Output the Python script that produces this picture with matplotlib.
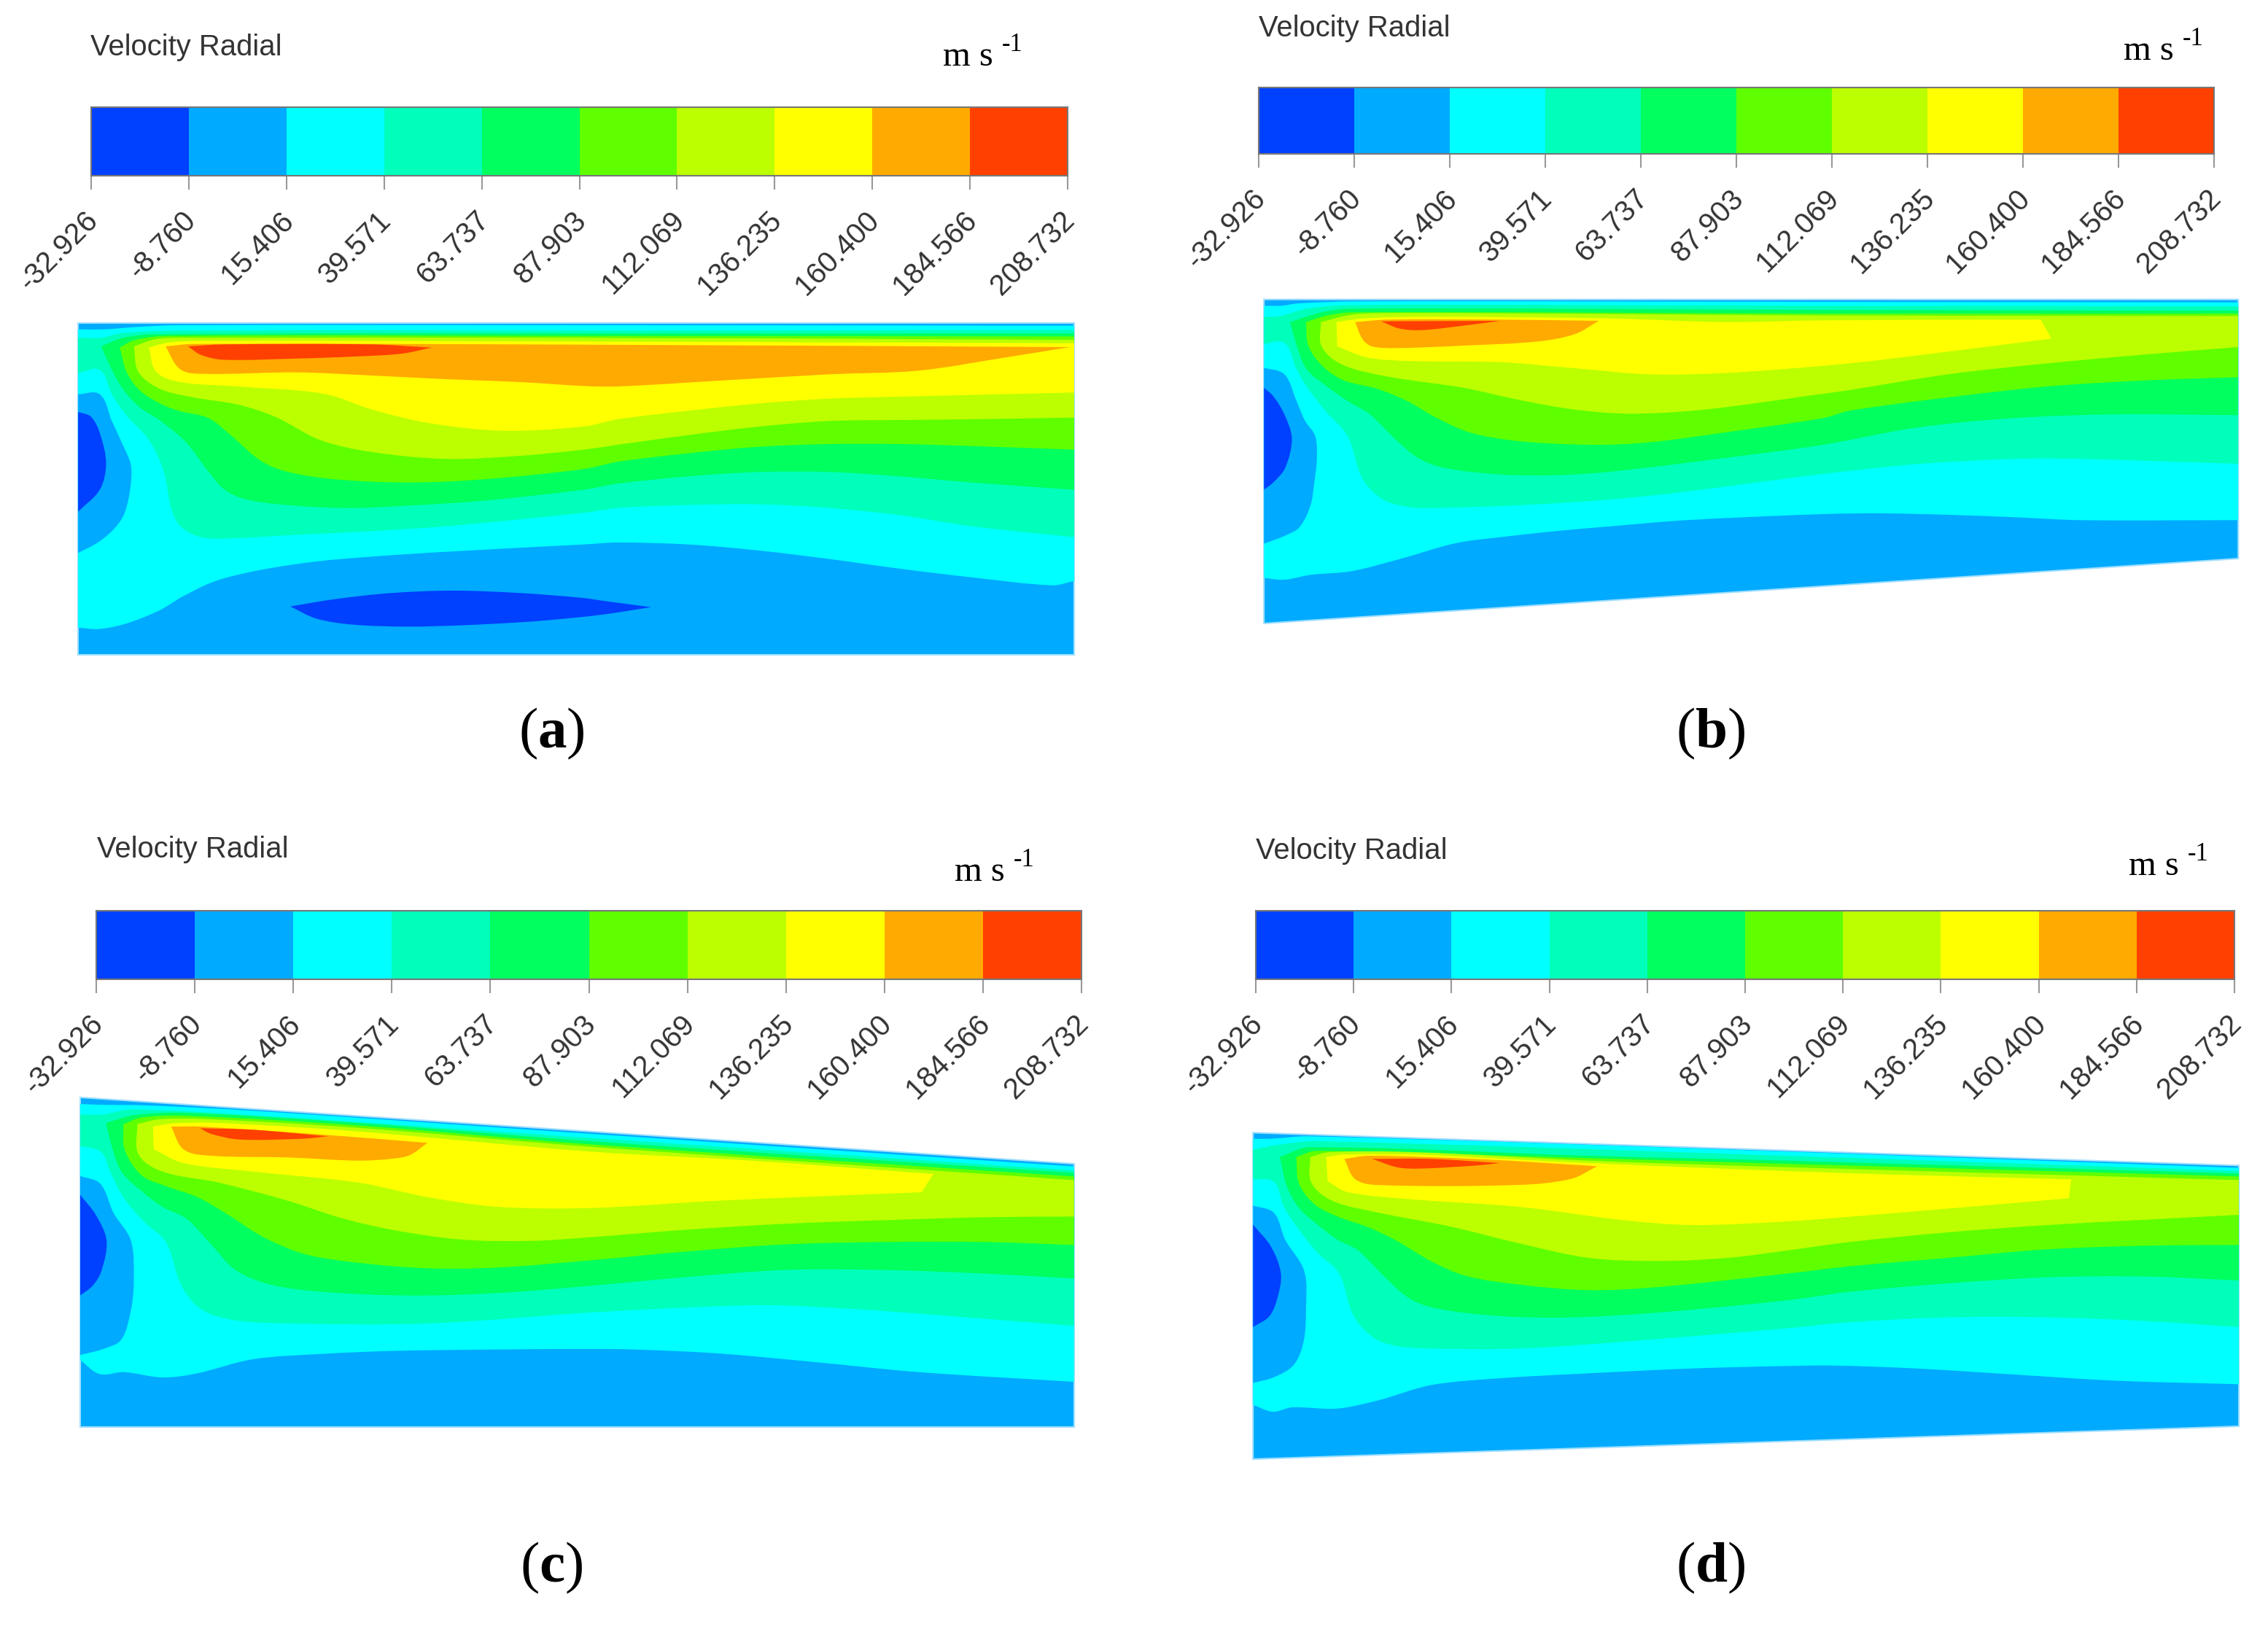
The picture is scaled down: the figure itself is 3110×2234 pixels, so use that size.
import numpy as np
import matplotlib
matplotlib.use("Agg")
import matplotlib.pyplot as plt
from matplotlib.patches import Polygon, PathPatch
from matplotlib.path import Path

W, H = 3110, 2234
plt.rcParams['font.family'] = ['Liberation Sans', 'DejaVu Sans']
plt.rcParams['mathtext.fontset'] = 'custom'
plt.rcParams['mathtext.rm'] = 'Liberation Serif'
plt.rcParams['mathtext.bf'] = 'Liberation Serif:bold'

# ---------- colour scale ----------
levels = [-32.926, -8.760, 15.406, 39.571, 63.737, 87.903, 112.069, 136.235, 160.400, 184.566, 208.732]
level_labels = ['-32.926', '-8.760', '15.406', '39.571', '63.737', '87.903', '112.069', '136.235', '160.400', '184.566', '208.732']
band_colors = ['#0040FF', '#00AAFF', '#00FFFF', '#00FFBB', '#00FF5F', '#5FFF00', '#BBFF00', '#FFFF00', '#FFAA00', '#FF4000']
title_text = 'Velocity Radial'
unit_text = 'm s'
unit_exp = '-1'
panel_names = ['a', 'b', 'c', 'd']


def reader(x0, y0, w):
    """Reads contour points picked off a magnified view of the reference."""
    k = 1568.0 / w
    return lambda pts: [(x0 + x / k, y0 + y / 3.0) for x, y in pts]


aL, aR = reader(0, 420, 800), reader(750, 420, 760)
bL, bR = reader(1700, 380, 800), reader(2400, 380, 710)
cL, cR = reader(60, 1490, 750), reader(800, 1490, 720)
dL, dR = reader(1700, 1530, 750), reader(2400, 1530, 710)

# ---------- panel (a) contours ----------
a_outline = aL([(210, 70), (210, 1435)]) + aR([(1492, 1435), (1492, 70)])
a_c2_top = aL([(210, 95), (280, 95), (370, 85), (480, 78), (1568, 78)]) + aR([(1492, 80)])
a_c2_low = aL([(210, 1322), (265, 1328), (340, 1305), (430, 1250), (490, 1195), (580, 1130), (700, 1085), (850, 1050), (1000, 1030), (1200, 1010), (1568, 980)]) + aR([(200, 972), (400, 980), (600, 1005), (800, 1040), (1000, 1080), (1200, 1115), (1430, 1148), (1492, 1130)])
a_c3_top = aL([(210, 130), (270, 130), (330, 110), (500, 100), (1568, 100)]) + aR([(1492, 97)])
a_c3_low = aL([(210, 275), (268, 262), (300, 360), (340, 450), (400, 550), (440, 680), (460, 830), (485, 905), (540, 950), (620, 955), (800, 940), (1000, 925), (1200, 905), (1568, 850)]) + aR([(200, 830), (400, 818), (600, 815), (800, 830), (1000, 860), (1200, 905), (1492, 950)])
a_c4_top = aL([(272, 165), (330, 130), (420, 115), (1568, 112)]) + aR([(1492, 112)])
a_c4_low = aL([(272, 165), (300, 260), (330, 340), (375, 415), (430, 470), (500, 560), (560, 680), (600, 750), (650, 790), (750, 815), (930, 830), (1100, 820), (1300, 800), (1568, 755)]) + aR([(200, 730), (400, 700), (600, 682), (800, 682), (1000, 700), (1200, 725), (1492, 755)])
a_c5_top = aL([(322, 170), (360, 140), (450, 122), (1568, 122)]) + aR([(1492, 124)])
a_c5_low = aL([(322, 170), (340, 270), (375, 345), (430, 400), (480, 430), (560, 460), (620, 530), (700, 635), (770, 680), (900, 712), (1100, 725), (1300, 712), (1568, 670)]) + aR([(200, 640), (400, 605), (600, 578), (800, 567), (1000, 567), (1200, 575), (1492, 590)])
a_c6_top = aL([(360, 165), (420, 135), (500, 130), (1568, 130)]) + aR([(1492, 138)])
a_c6_low = aL([(360, 165), (372, 270), (430, 340), (520, 375), (640, 405), (740, 455), (860, 550), (1000, 600), (1200, 628), (1400, 615), (1568, 590)]) + aR([(200, 570), (400, 530), (600, 495), (800, 472), (1000, 468), (1200, 465), (1492, 458)])
a_c7_top = aL([(400, 170), (450, 150), (550, 142), (1568, 145)]) + aR([(1492, 152)])
a_c7_low = aL([(400, 170), (420, 270), (485, 312), (640, 330), (870, 360), (1000, 425), (1150, 480), (1350, 512), (1568, 495)]) + aR([(200, 465), (400, 430), (600, 400), (800, 380), (1000, 372), (1200, 365), (1492, 355)])
a_c8_top = aL([(445, 165), (520, 155), (1568, 158)]) + aR([(1480, 168)])
a_c8_low = aL([(445, 165), (485, 260), (550, 278), (800, 272), (1000, 285), (1200, 300), (1400, 312), (1568, 328)]) + aR([(200, 330), (500, 305), (800, 280), (1050, 265), (1300, 210), (1480, 168)])
a_c9_top = aL([(505, 165), (600, 157), (1000, 157), (1160, 170)])
a_c9_low = aL([(505, 165), (540, 200), (600, 220), (800, 215), (950, 207), (1080, 195), (1160, 170)])
a_wall1 = aL([(210, 362), (268, 362), (300, 470), (330, 570), (352, 655), (350, 750), (335, 850), (310, 910), (265, 970), (210, 1015)])
a_wall0 = aL([(210, 435), (245, 455), (270, 530), (285, 650), (268, 755), (210, 845)])
a_lens_top = aL([(780, 1235), (900, 1205), (1050, 1180), (1220, 1170), (1400, 1180), (1568, 1200)]) + aR([(150, 1210), (295, 1238)])
a_lens_low = aL([(780, 1235), (850, 1285), (950, 1310), (1100, 1318), (1250, 1312), (1400, 1300)]) + aR([(0, 1292), (150, 1270), (295, 1238)])

# ---------- panel (b) contours ----------
b_outline = bL([(65, 92), (65, 1425)]) + bR([(1478, 1158), (1478, 92)])
b_c2_top = bL([(65, 118), (110, 118), (160, 108), (310, 100), (1568, 102)]) + bR([(1478, 104)])
b_c2_low = bL([(65, 1238), (120, 1245), (190, 1225), (300, 1210), (430, 1160), (580, 1095), (700, 1070), (850, 1045), (1000, 1025), (1200, 1000), (1568, 975)]) + bR([(400, 972), (600, 978), (800, 988), (1000, 1000), (1478, 1000)])
b_c3_top = bL([(65, 165), (110, 160), (180, 130), (300, 115), (1568, 118)]) + bR([(1478, 120)])
b_c3_low = bL([(65, 275), (120, 270), (150, 370), (175, 440), (230, 550), (290, 655), (330, 830), (385, 915), (450, 945), (520, 950), (800, 935), (1100, 900), (1568, 810)]) + bR([(500, 770), (800, 748), (1000, 748), (1478, 768)])
b_c4_top = bL([(135, 185), (220, 145), (300, 130), (1568, 135)]) + bR([(1478, 138)])
b_c4_low = bL([(135, 185), (155, 290), (180, 380), (230, 445), (290, 510), (350, 565), (420, 670), (480, 745), (550, 785), (700, 812), (850, 815), (1000, 800), (1300, 745), (1568, 690)]) + bR([(500, 620), (800, 580), (1100, 565), (1478, 568)])
b_c5_top = bL([(178, 185), (230, 160), (300, 145), (1568, 150)]) + bR([(1478, 150)])
b_c5_low = bL([(178, 185), (185, 285), (225, 370), (280, 425), (370, 460), (450, 510), (530, 580), (620, 640), (750, 675), (950, 690), (1100, 680), (1300, 640), (1568, 580)]) + bR([(300, 550), (600, 495), (900, 450), (1200, 425), (1478, 412)])
b_c6_top = bL([(218, 185), (300, 155), (400, 148), (1000, 152), (1568, 158)]) + bR([(1478, 160)])
b_c6_low = bL([(218, 185), (220, 285), (275, 360), (400, 410), (600, 455), (750, 505), (900, 545), (1050, 562), (1250, 545), (1568, 480)]) + bR([(300, 465), (600, 400), (900, 355), (1200, 318), (1478, 288)])
b_c7_top = bL([(260, 185), (330, 170), (500, 163), (1000, 170), (1300, 185), (1568, 178)]) + bR([(880, 175)])
b_c7_low = bL([(262, 285), (340, 330), (450, 345), (700, 350), (900, 375), (1100, 400), (1300, 395), (1568, 365)]) + bR([(400, 340), (912, 253)])
b_c8_top = bL([(310, 185), (400, 175), (700, 175), (965, 180)])
b_c8_low = bL([(310, 185), (330, 255), (355, 285), (420, 292), (600, 282), (800, 265), (900, 235), (965, 180)])
b_c9_top = bL([(380, 182), (700, 180)])
b_c9_low = bL([(380, 182), (430, 212), (490, 218), (600, 200), (700, 180)])
b_wall1 = bL([(65, 373), (120, 400), (150, 500), (175, 590), (203, 655), (207, 750), (200, 850), (190, 940), (160, 1030), (120, 1065), (65, 1097)])
b_wall0 = bL([(65, 455), (90, 490), (120, 565), (140, 665), (122, 785), (90, 845), (65, 875)])

# ---------- panel (c) contours ----------
c_outline = cL([(104, 45), (104, 1400)]) + cR([(1465, 1400), (1465, 318)])
c_c2_top = cL([(104, 72), (160, 75), (300, 78), (600, 100), (1568, 195)]) + cR([(1465, 329)])
c_c2_low = cL([(104, 1125), (160, 1183), (230, 1175), (340, 1197), (440, 1180), (600, 1122), (800, 1100), (1000, 1088), (1300, 1082), (1568, 1080)]) + cR([(150, 1082), (400, 1098), (700, 1135), (1000, 1175), (1465, 1215)])
c_c3_top = cL([(104, 115), (170, 115), (250, 95), (600, 118), (1568, 212)]) + cR([(1465, 345)])
c_c3_low = cL([(104, 245), (165, 270), (190, 350), (230, 460), (290, 560), (350, 640), (395, 820), (450, 915), (540, 960), (700, 975), (1100, 975), (1568, 930)]) + cR([(300, 910), (550, 900), (800, 915), (1100, 945), (1465, 985)])
c_c4_top = cL([(178, 150), (260, 118), (400, 108), (900, 150), (1568, 225)]) + cR([(1465, 355)])
c_c4_low = cL([(178, 150), (200, 270), (225, 355), (280, 430), (340, 495), (410, 545), (480, 650), (550, 755), (650, 815), (800, 845), (1050, 860), (1300, 850), (1568, 820)]) + cR([(300, 785), (600, 755), (900, 755), (1200, 770), (1465, 790)])
c_c5_top = cL([(228, 155), (280, 128), (400, 120), (900, 160), (1568, 238)]) + cR([(1465, 370)])
c_c5_low = cL([(228, 155), (232, 260), (280, 365), (350, 410), (440, 455), (520, 520), (630, 620), (750, 690), (900, 725), (1100, 748), (1300, 745), (1568, 715)]) + cR([(300, 680), (600, 650), (900, 640), (1200, 640), (1465, 652)])
c_c6_top = cL([(268, 155), (330, 135), (450, 133), (900, 170), (1568, 248)]) + cR([(1465, 385)])
c_c6_low = cL([(268, 155), (272, 280), (340, 350), (500, 395), (700, 470), (850, 540), (1000, 590), (1200, 630), (1400, 635), (1568, 620)]) + cR([(300, 590), (600, 565), (900, 550), (1200, 538), (1465, 535)])
c_c7_top = cL([(313, 165), (370, 152), (500, 150), (900, 185), (1568, 268)]) + cR([(500, 305), (1045, 360)])
c_c7_low = cL([(315, 258), (400, 315), (600, 350), (900, 395), (1100, 455), (1300, 495), (1568, 500)]) + cR([(400, 470), (1010, 435)])
c_c8_top = cL([(365, 165), (450, 165), (800, 198), (1100, 232)])
c_c8_low = cL([(365, 165), (402, 260), (480, 285), (700, 292), (900, 305), (1000, 297), (1050, 282), (1100, 232)])
c_c9_top = cL([(448, 172), (600, 178), (815, 205)])
c_c9_low = cL([(448, 172), (480, 195), (560, 218), (740, 215), (815, 205)])
c_wall1 = cL([(104, 368), (162, 400), (200, 520), (250, 635), (258, 800), (250, 920), (222, 1042), (170, 1080), (104, 1105)])
c_wall0 = cL([(104, 445), (150, 530), (180, 635), (165, 760), (140, 820), (104, 860)])

# ---------- panel (d) contours ----------
d_outline = dL([(38, 70), (38, 1413)]) + dR([(1480, 1278), (1480, 205)])
d_c2_top = dL([(38, 95), (90, 95), (200, 85), (1568, 148)]) + dR([(1480, 215)])
d_c2_low = dL([(38, 1190), (95, 1218), (150, 1200), (280, 1205), (400, 1170), (550, 1108), (750, 1080), (1000, 1060), (1300, 1040), (1568, 1030)]) + dR([(250, 1028), (500, 1040), (800, 1065), (1100, 1090), (1480, 1105)])
d_c3_top = dL([(38, 140), (110, 120), (220, 105), (1568, 165)]) + dR([(1480, 228)])
d_c3_low = dL([(38, 262), (98, 272), (125, 370), (160, 450), (220, 560), (285, 650), (325, 820), (380, 910), (440, 945), (520, 957), (800, 958), (1100, 930), (1568, 875)]) + dR([(300, 850), (600, 830), (900, 830), (1200, 845), (1480, 870)])
d_c4_top = dL([(115, 170), (200, 130), (1000, 165), (1568, 185)]) + dR([(1480, 238)])
d_c4_low = dL([(115, 170), (135, 290), (170, 380), (220, 445), (280, 510), (340, 555), (420, 670), (490, 755), (570, 795), (750, 825), (950, 830), (1200, 810), (1568, 760)]) + dR([(300, 725), (600, 690), (900, 665), (1200, 662), (1480, 678)])
d_c5_top = dL([(162, 170), (220, 145), (1000, 175), (1568, 198)]) + dR([(1480, 250)])
d_c5_low = dL([(162, 170), (170, 280), (215, 365), (280, 415), (370, 460), (450, 515), (550, 600), (650, 660), (800, 695), (1000, 718), (1200, 705), (1568, 650)]) + dR([(300, 620), (600, 585), (900, 550), (1200, 535), (1480, 532)])
d_c6_top = dL([(202, 170), (260, 150), (500, 150), (1000, 185), (1568, 212)]) + dR([(1480, 265)])
d_c6_low = dL([(202, 170), (205, 275), (265, 350), (400, 400), (600, 455), (800, 525), (1000, 585), (1200, 598), (1400, 585), (1568, 555)]) + dR([(300, 520), (600, 480), (900, 450), (1200, 428), (1480, 408)])
d_c7_top = dL([(248, 170), (300, 160), (500, 160), (1000, 195), (1568, 228)]) + dR([(500, 245), (972, 262)])
d_c7_low = dL([(252, 270), (310, 315), (500, 345), (800, 375), (1100, 430), (1300, 450), (1568, 435)]) + dR([(400, 405), (965, 340)])
d_c8_top = dL([(300, 178), (370, 165), (700, 180), (1025, 208)])
d_c8_low = dL([(300, 178), (330, 260), (390, 285), (800, 285), (950, 260), (1025, 208)])
d_c9_top = dL([(380, 178), (550, 178), (745, 195)])
d_c9_low = dL([(380, 178), (450, 212), (510, 218), (680, 205), (745, 195)])
d_wall1 = dL([(38, 370), (98, 400), (130, 510), (185, 640), (190, 800), (183, 930), (155, 1025), (100, 1075), (38, 1100)])
d_wall0 = dL([(38, 448), (90, 540), (118, 650), (108, 750), (85, 825), (38, 870)])

panels = [
    (a_outline, [(a_c2_top, a_c2_low), (a_c3_top, a_c3_low), (a_c4_top, a_c4_low), (a_c5_top, a_c5_low), (a_c6_top, a_c6_low), (a_c7_top, a_c7_low), (a_c8_top, a_c8_low), (a_c9_top, a_c9_low)], a_wall1, a_wall0),
    (b_outline, [(b_c2_top, b_c2_low), (b_c3_top, b_c3_low), (b_c4_top, b_c4_low), (b_c5_top, b_c5_low), (b_c6_top, b_c6_low), (b_c7_top, b_c7_low), (b_c8_top, b_c8_low), (b_c9_top, b_c9_low)], b_wall1, b_wall0),
    (c_outline, [(c_c2_top, c_c2_low), (c_c3_top, c_c3_low), (c_c4_top, c_c4_low), (c_c5_top, c_c5_low), (c_c6_top, c_c6_low), (c_c7_top, c_c7_low), (c_c8_top, c_c8_low), (c_c9_top, c_c9_low)], c_wall1, c_wall0),
    (d_outline, [(d_c2_top, d_c2_low), (d_c3_top, d_c3_low), (d_c4_top, d_c4_low), (d_c5_top, d_c5_low), (d_c6_top, d_c6_low), (d_c7_top, d_c7_low), (d_c8_top, d_c8_low), (d_c9_top, d_c9_low)], d_wall1, d_wall0),
]

# layout: colour bar box (left, right, top, bottom), title xy, unit xy, caption xy, in output pixels
bar_boxes = [(125, 1464, 147, 241), (1726, 3036, 120, 211), (132, 1483, 1249, 1343), (1722, 3064, 1249, 1343)]
title_xy = [(124, 65), (1726, 39), (133, 1165), (1722, 1167)]
unit_xy = [(1293, 90), (2912, 82), (1309, 1208), (2919, 1200)]
caption_xy = [(756, 1006), (2346, 1006), (756, 2150), (2346, 2150)]
FS = 40 * 72 / 100  # 40 px

fig = plt.figure(figsize=(W / 100, H / 100), dpi=100, facecolor='white')
ax = fig.add_axes([0, 0, 1, 1])
ax.set_xlim(0, W)
ax.set_ylim(H, 0)
ax.axis('off')


def chain_path(pts):
    """Bezier segments through the read points, so the contour is drawn without kinks."""
    p = np.asarray(pts, float)
    n = len(p)
    t = np.zeros_like(p)
    for i in range(1, n - 1):
        d = p[i + 1] - p[i - 1]
        t[i] = d / max(np.hypot(*d), 1e-9)
    verts, codes = [], []
    for i in range(n - 1):
        a, b = p[i], p[i + 1]
        h = np.hypot(*(b - a)) / 3
        c1 = a + t[i] * h if i > 0 else a + (b - a) / 3
        c2 = b - t[i + 1] * h if i + 1 < n - 1 else b - (b - a) / 3
        verts += [c1, c2, b]
        codes += [Path.CURVE4] * 3
    return verts, codes


def fill(chains, color, clip):
    verts, codes = [chains[0][0]], [Path.MOVETO]
    for k, ch in enumerate(chains):
        if k > 0:
            verts.append(ch[0])
            codes.append(Path.LINETO)
        v, c = chain_path(ch)
        verts += v
        codes += c
    verts.append(chains[0][0])
    codes.append(Path.CLOSEPOLY)
    patch = PathPatch(Path(verts, codes), facecolor=color, edgecolor='none', lw=0)
    ax.add_patch(patch)
    patch.set_clip_path(clip)


for i, (outline, stack, wall1, wall0) in enumerate(panels):
    clip = Polygon(outline, closed=True, facecolor=band_colors[1], edgecolor='#9FDFFF', lw=1.5)
    ax.add_patch(clip)
    for j, (top, low) in enumerate(stack):
        fill([top, low[::-1]], band_colors[j + 2], clip)
    fill([wall1], band_colors[1], clip)
    fill([wall0], band_colors[0], clip)
    if i == 0:
        fill([a_lens_top, a_lens_low[::-1]], band_colors[0], clip)

    # colour bar drawn through its own value axis
    x0, x1, y0, y1 = bar_boxes[i]
    cax = fig.add_axes([x0 / W, 1 - y1 / H, (x1 - x0) / W, (y1 - y0) / H])
    cax.pcolormesh(levels, [0, 1], [list(range(len(band_colors)))],
                   cmap=matplotlib.colors.ListedColormap(band_colors),
                   vmin=-0.5, vmax=len(band_colors) - 0.5)
    cax.set_yticks([])
    cax.set_xticks(levels)
    cax.set_xticklabels([])
    cax.tick_params(axis='x', length=19 * 72 / 100, width=1.5, color='#999999')
    for lev, lab in zip(levels, level_labels):
        cax.annotate(lab, xy=(lev, 0), xycoords=('data', 'axes fraction'), xytext=(-10, -42),
                     textcoords='offset pixels', rotation=45, ha='right', va='top',
                     rotation_mode='anchor', fontsize=FS, color='#333333', annotation_clip=False)
    for s in cax.spines.values():
        s.set_color('#777777')
        s.set_linewidth(1.5)

    ax.text(title_xy[i][0], title_xy[i][1], title_text, fontsize=FS, color='#333333', ha='left', va='center')
    ux, uy = unit_xy[i]
    ax.text(ux, uy, unit_text, family='Liberation Serif', fontsize=35, color='black', ha='left', va='baseline')
    ax.text(ux + 81, uy - 20, unit_exp, family='Liberation Serif', fontsize=25, color='black', ha='left', va='baseline')
    cx, cy = caption_xy[i]
    ax.text(cx, cy, '$\\mathrm{(}\\mathbf{%s}\\mathrm{)}$' % panel_names[i], family='Liberation Serif', fontsize=57,
            color='black', ha='center', va='center')

fig.savefig('out.png', dpi=100, facecolor='white')
